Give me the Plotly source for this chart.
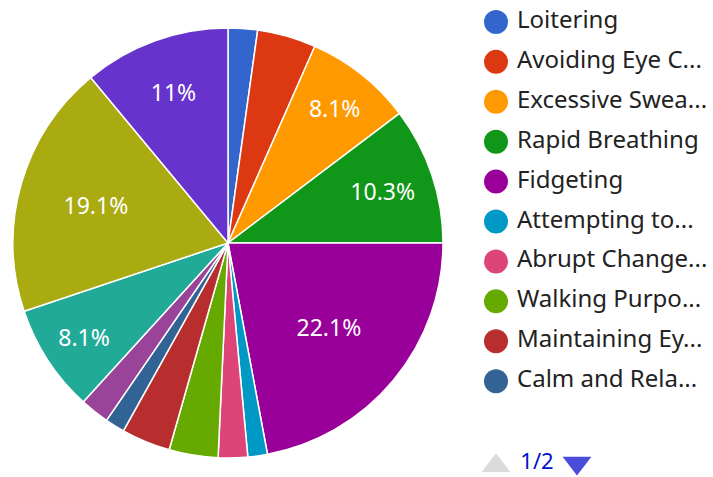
import plotly.graph_objects as go

# ---- data ----
labels = [
    "Loitering", "Avoiding Eye Contact", "Excessive Sweating", "Rapid Breathing",
    "Fidgeting", "Attempting to Hide Face", "Abrupt Change in Direction",
    "Walking Purposefully", "Maintaining Eye Contact", "Calm and Relaxed",
    "Looking Around Nervously", "Pacing Back and Forth", "Checking Surroundings",
    "Standing Still",
]
values = [3, 6, 11, 14, 30, 2, 3, 5, 5, 2, 3, 11, 26, 15]
colors = [
    "#3366cc", "#dc3912", "#ff9900", "#109618", "#990099", "#0099c6", "#dd4477",
    "#66aa00", "#b82e2e", "#316395", "#994499", "#22aa99", "#aaaa11", "#6633cc",
]
# legend page 1 (truncated labels as displayed)
legend_text = [
    "Loitering", "Avoiding Eye C...", "Excessive Swea...", "Rapid Breathing",
    "Fidgeting", "Attempting to...", "Abrupt Change...", "Walking Purpo...",
    "Maintaining Ey...", "Calm and Rela...",
]
pager_text = "1/2"

FONT = "Noto Sans"
W, H = 713, 477

total = sum(values)
slice_text = []
for v in values:
    p = round(v / total * 100, 1)
    s = ("%.1f" % p).rstrip("0").rstrip(".") + "%"
    slice_text.append(s if p >= 8 else "")

fig = go.Figure()
fig.add_trace(go.Pie(
    labels=labels, values=values, text=slice_text, textinfo="text",
    sort=False, direction="clockwise", rotation=0,
    marker=dict(colors=colors, line=dict(color="white", width=1.5)),
    textposition="inside", insidetextorientation="horizontal",
    textfont=dict(family=FONT, size=23, color="white"),
    domain=dict(x=[13 / W, 443 / W], y=[19 / H, 449 / H]),
    showlegend=False, hoverinfo="label+percent",
))

# legend drawn as scatter marks on their own axes (1 x-unit = 1 px, 1 y-unit = 1 row)
n = len(legend_text)
fig.add_trace(go.Scatter(
    x=[0] * n, y=list(range(n)), mode="markers",
    marker=dict(size=24, color=colors[:n], line=dict(width=0)),
    xaxis="x2", yaxis="y2", showlegend=False, hoverinfo="skip", cliponaxis=False,
))
fig.add_trace(go.Scatter(
    x=[21] * n, y=list(range(n)), mode="text",
    text=legend_text, textposition="middle right",
    textfont=dict(family=FONT, size=24, color="#222222"),
    xaxis="x2", yaxis="y2", showlegend=False, hoverinfo="skip", cliponaxis=False,
))
# pager
fig.add_trace(go.Scatter(
    x=[0, 81], y=[11.12, 11.05], mode="markers",
    marker=dict(symbol=["triangle-up", "triangle-down"], size=[25, 25],
                color=["#cccccc", "#0000cc"], line=dict(width=0)),
    xaxis="x2", yaxis="y2", showlegend=False, hoverinfo="skip", cliponaxis=False,
))
fig.add_trace(go.Scatter(
    x=[41], y=[11.05], mode="text", text=[pager_text],
    textfont=dict(family=FONT, size=22, color="#0011cc"),
    xaxis="x2", yaxis="y2", showlegend=False, hoverinfo="skip", cliponaxis=False,
))

fig.update_layout(
    width=W, height=H,
    margin=dict(l=0, r=0, t=0, b=0),
    paper_bgcolor="white", plot_bgcolor="rgba(0,0,0,0)",
    xaxis2=dict(domain=[470 / W, 1], range=[-26, 217], visible=False, fixedrange=True),
    yaxis2=dict(domain=[0, 1], range=[11.4, -0.55], visible=False, fixedrange=True,
                anchor="x2"),
)

fig.write_html("out.html")
